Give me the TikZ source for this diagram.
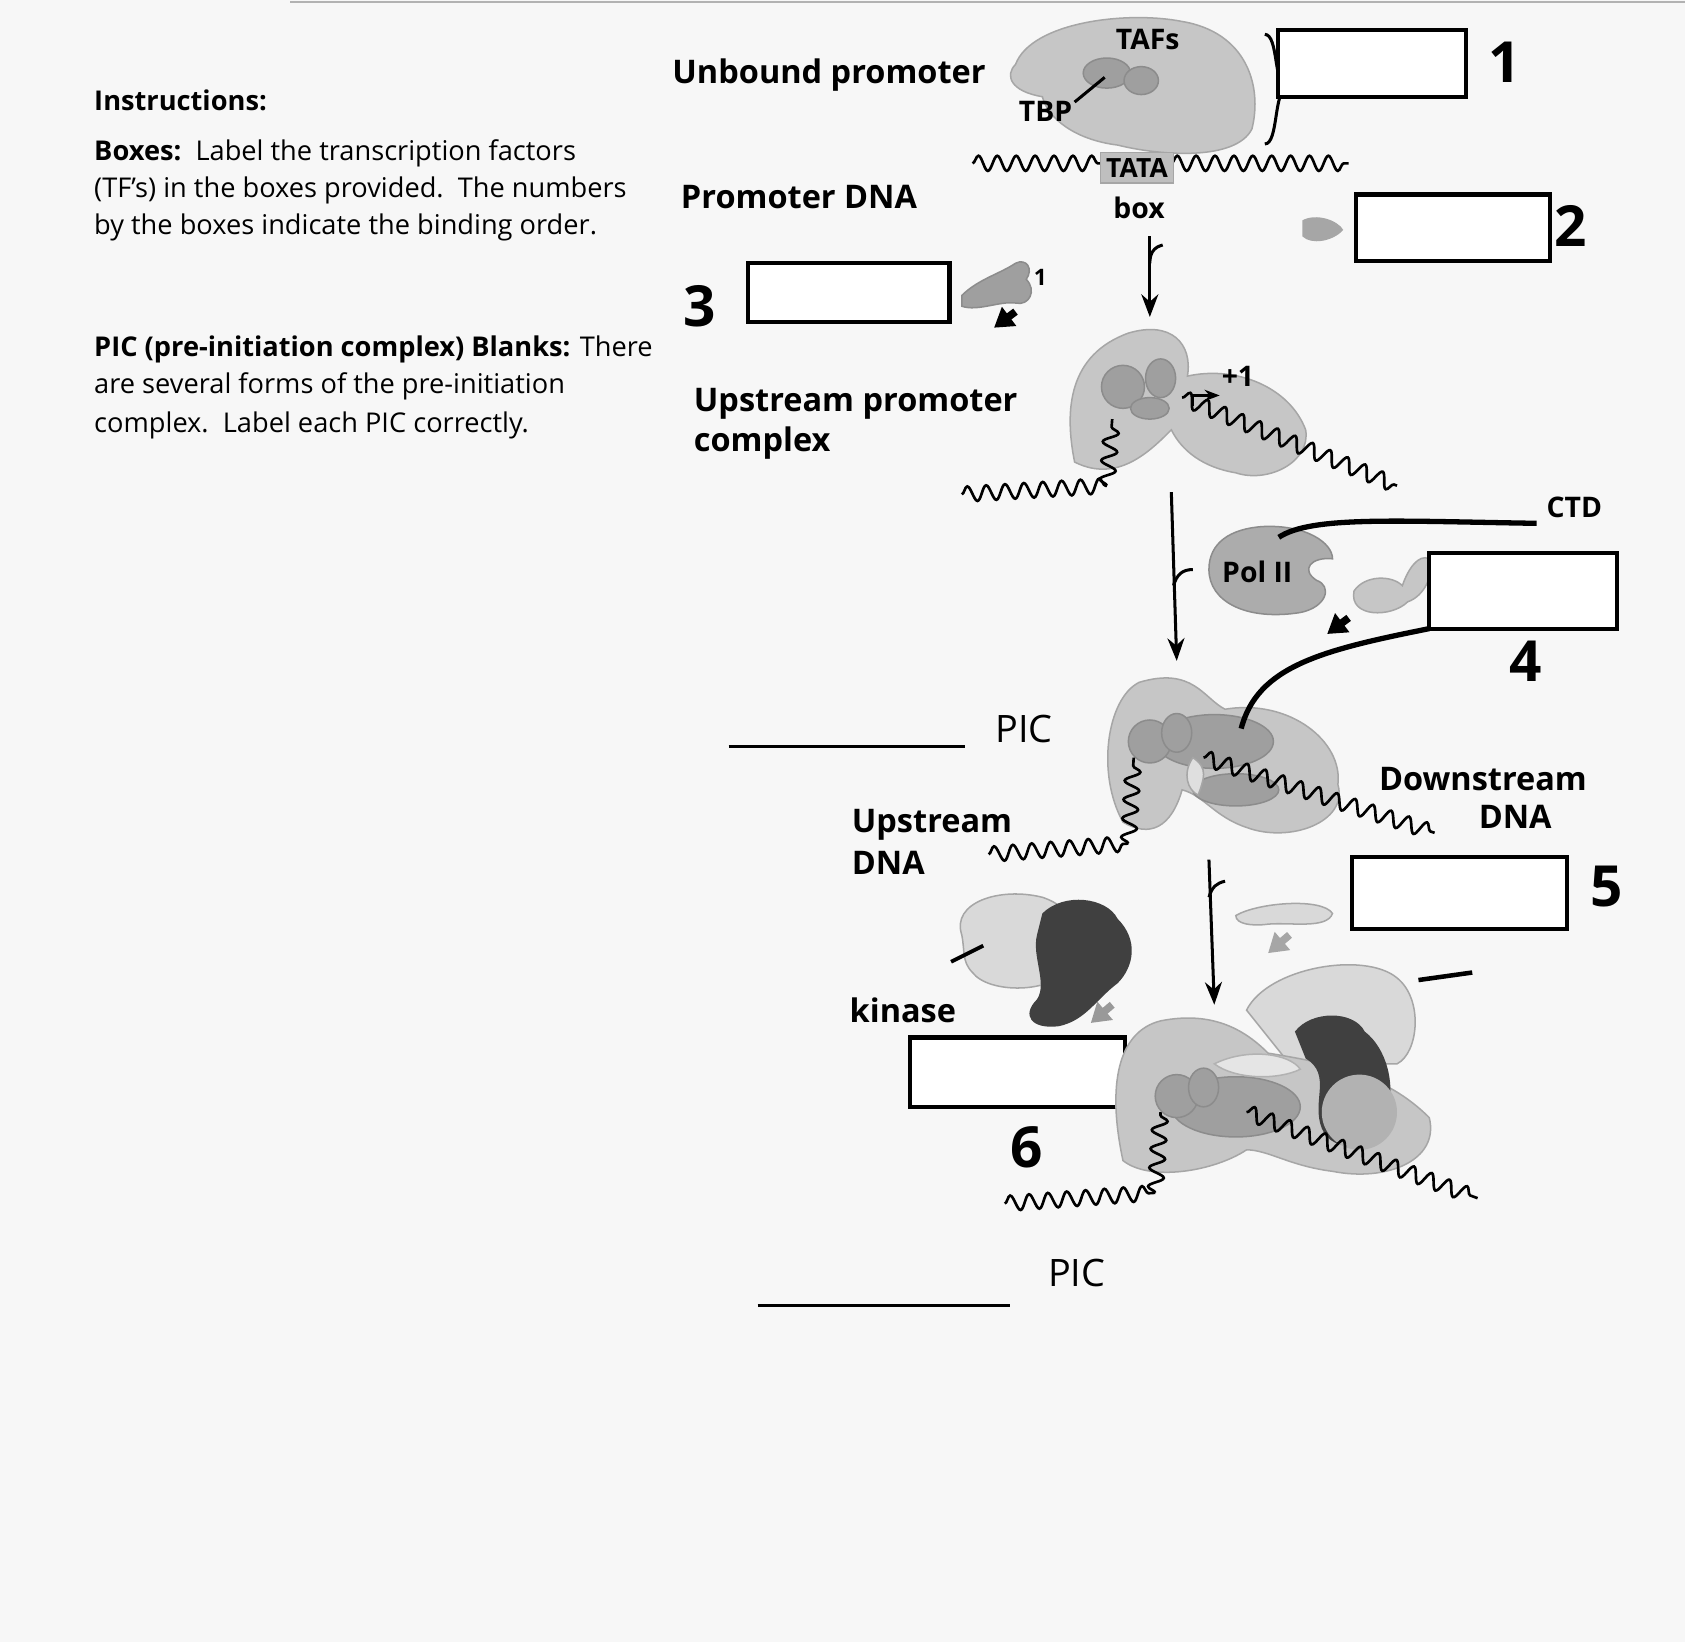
\documentclass[tikz,border=0pt]{standalone}
\usepackage{fontspec}
\setmainfont{Open Sans}
\usetikzlibrary{decorations.pathmorphing,arrows.meta}
\begin{document}
\begin{tikzpicture}[x=0.01cm,y=-0.01cm,
 txt/.style={anchor=west,inner sep=0,font=\fontsize{7.2}{8}\selectfont},
 bt/.style={anchor=west,inner sep=0,font=\fontsize{8.6}{10}\bfseries\selectfont},
 num/.style={inner sep=0,font=\fontsize{15}{17}\bfseries\selectfont},
 ansbox/.style={draw,line width=1.1pt,fill=white,inner sep=0},
 dna/.style={decorate,decoration={snake,amplitude=2pt,segment length=5pt},line width=0.7pt},
 blob/.style={fill=gray!45,draw=gray!70,line width=0.4pt},
 dark/.style={fill=gray!75,draw=gray!90},
 darker/.style={fill=black!75},
 flow/.style={-{Stealth[length=6pt]},line width=0.8pt},
 small/.style={-{Triangle[length=5pt,width=6pt]},line width=2pt}]
\fill[white!94!gray] (0,0) rectangle (1568,1528);
\useasboundingbox (0,0) rectangle (1568,1528);
\draw[gray!60,line width=0.6pt] (270,2) -- (1568,2);
% instructions
\node[txt,font=\fontsize{7.2}{8}\bfseries\selectfont] (ins) at (87,93) {Instructions:};
\node[txt] (b1) at (87,143) {\textbf{Boxes:}\ \ Label the transcription factors};
\node[txt] (b2) at (87,177) {(TF’s) in the boxes provided.\ \ The numbers};
\node[txt] (b3) at (87,212) {by the boxes indicate the binding order.};
\node[txt] (p1) at (87,325) {\textbf{PIC (pre-initiation complex) Blanks:} There};
\node[txt] (p2) at (87,360) {are several forms of the pre-initiation};
\node[txt] (p3) at (87,396) {complex.\ \ Label each PIC correctly.};
% unbound promoter
\node[bt] (ub) at (625,70) {Unbound promoter};
\path[blob] (945,60) .. controls (960,20) and (1050,10) .. (1100,20) .. controls (1160,30) and (1175,80) .. (1165,120) .. controls (1150,150) and (1080,145) .. (1040,135) .. controls (1000,130) and (975,110) .. (970,90) .. controls (940,85) and (935,70) .. (945,60) -- cycle;
\path[dark] (1030,68) ellipse (22 and 14);
\path[dark] (1062,75) ellipse (16 and 13);
\draw[line width=0.8pt] (1000,95) -- (1028,72);
\node[inner sep=0,font=\fontsize{7.5}{9}\bfseries\selectfont] (tafs) at (1068,37) {TAFs};
\node[inner sep=0,font=\fontsize{7.5}{9}\bfseries\selectfont] (tbp) at (973,104) {TBP};
\draw[line width=0.8pt] (1177,32) .. controls (1190,32) and (1185,82) .. (1198,82) .. controls (1185,82) and (1190,134) .. (1177,134);
\node[ansbox,minimum width=1.75cm,minimum height=0.62cm] (box1) at (1277,59) {};
\node[num] (n1) at (1400,58) {1};
% promoter DNA
\node[bt] (pdna) at (633,183) {Promoter DNA};
\draw[dna] (905,152) -- (1025,152);
\draw[dna] (1090,152) -- (1255,152);
\node[draw=gray!70,fill=gray!50,inner sep=1.5pt,font=\fontsize{7}{8}\bfseries\selectfont] (tata) at (1058,156) {TATA};
\node[inner sep=0,font=\fontsize{7.5}{9}\bfseries\selectfont] (tbox) at (1060,193) {box};
\coordinate (a1s) at (1070,220);
\coordinate (a1e) at (1070,295);
\draw[flow] (a1s) -- (a1e);
\draw[line width=0.8pt] (1070,245) .. controls (1070,235) and (1074,230) .. (1082,228);
\path[fill=gray!70] (1212,205) .. controls (1225,198) and (1245,205) .. (1250,214) .. controls (1240,225) and (1220,228) .. (1212,220) -- cycle;
\node[ansbox,minimum width=1.8cm,minimum height=0.62cm] (box2) at (1352,212) {};
\node[num] (n2) at (1462,210) {2};
% box 3
\node[num] (n3) at (651,285) {3};
\node[ansbox,minimum width=1.87cm,minimum height=0.55cm] (box3) at (790,272) {};
\path[dark] (895,275) .. controls (910,260) and (930,255) .. (945,245) .. controls (955,240) and (962,250) .. (955,260) .. controls (965,270) and (958,285) .. (945,282) .. controls (930,280) and (910,290) .. (895,285) -- cycle;
\node[inner sep=0,font=\fontsize{6}{7}\bfseries\selectfont] (s1) at (968,258) {1};
\draw[small] (945,290) -- (925,305);
% upstream promoter complex
\node[bt] (upc) at (645,376) {Upstream promoter};
\node[bt] (upc2) at (645,412) {complex};
\path[blob] (1000,430) .. controls (990,380) and (995,330) .. (1050,310) .. controls (1090,298) and (1110,320) .. (1105,350) .. controls (1150,340) and (1200,360) .. (1215,400) .. controls (1220,430) and (1180,450) .. (1150,440) .. controls (1120,435) and (1100,420) .. (1090,400) .. controls (1070,420) and (1040,450) .. (1000,430) -- cycle;
\path[dark] (1045,360) circle (20);
\path[dark] (1080,352) ellipse (14 and 18);
\path[dark] (1070,380) ellipse (18 and 10);
\draw[dna] (895,460) -- (1030,452);
\draw[dna] (1030,452) -- (1035,390);
\draw[dna] (1100,370) -- (1300,452);
\node[inner sep=0,font=\fontsize{7.5}{9}\bfseries\selectfont] (p1l) at (1152,350) {+1};
\draw[-{Stealth[length=4pt]},line width=0.6pt] (1110,378) -- (1110,368) -- (1135,368);
\coordinate (a2s) at (1090,458);
\coordinate (a2e) at (1095,615);
\draw[flow] (a2s) -- (a2e);
\draw[line width=0.8pt] (1092,545) .. controls (1095,535) and (1100,530) .. (1110,530);
% Pol II
\path[dark,fill=gray!65] (1175,490) .. controls (1215,488) and (1240,505) .. (1240,520) .. controls (1220,518) and (1210,530) .. (1225,540) .. controls (1240,545) and (1235,565) .. (1210,570) .. controls (1160,578) and (1125,560) .. (1125,530) .. controls (1125,505) and (1145,492) .. (1175,490) -- cycle;
\node[inner sep=0,font=\fontsize{7.5}{9}\bfseries\selectfont] (pol) at (1170,532) {Pol II};
\draw[line width=1.4pt] (1190,500) .. controls (1220,480) and (1300,485) .. (1430,487);
\node[inner sep=0,font=\fontsize{7.5}{9}\bfseries\selectfont] (ctd) at (1465,472) {CTD};
\path[blob] (1260,550) .. controls (1270,535) and (1295,535) .. (1305,545) .. controls (1310,530) and (1320,515) .. (1330,520) .. controls (1335,535) and (1325,555) .. (1310,560) .. controls (1295,575) and (1255,575) .. (1260,550) -- cycle;
\node[ansbox,minimum width=1.75cm,minimum height=0.7cm] (box4) at (1417,550) {};
\node[num] (n4) at (1420,615) {4};
\draw[small] (1255,575) -- (1235,590);
% PIC 1
\draw[line width=0.8pt] (678,695) -- (898,695);
\node[inner sep=0,font=\fontsize{10}{12}\selectfont] (pic1) at (953,678) {PIC};
\path[blob] (1045,765) .. controls (1020,720) and (1030,650) .. (1060,635) .. controls (1110,620) and (1120,650) .. (1140,660) .. controls (1200,650) and (1250,690) .. (1245,730) .. controls (1255,765) and (1200,785) .. (1160,770) .. controls (1130,760) and (1120,740) .. (1100,735) .. controls (1090,770) and (1070,780) .. (1045,765) -- cycle;
\path[dark] (1130,690) ellipse (55 and 25);
\path[dark] (1070,690) circle (20);
\path[dark] (1095,682) ellipse (14 and 18);
\path[dark] (1150,735) ellipse (40 and 15);
\path[fill=gray!25,draw=gray!70] (1110,705) .. controls (1100,720) and (1105,735) .. (1115,740) .. controls (1120,725) and (1125,715) .. (1110,705) -- cycle;
\draw[line width=1.4pt] (1155,678) .. controls (1170,620) and (1230,605) .. (1330,585);
\draw[dna] (920,795) -- (1050,785);
\draw[dna] (1050,785) -- (1055,705);
\draw[dna] (1120,705) -- (1335,775);
\node[bt,anchor=center] (dwn) at (1380,725) {Downstream};
\node[bt,anchor=center] (dwn2) at (1410,760) {DNA};
\node[bt] (up) at (792,768) {Upstream};
\node[bt] (up2) at (792,803) {DNA};
\coordinate (a3s) at (1125,800);
\coordinate (a3e) at (1130,935);
\draw[flow] (a3s) -- (a3e);
\draw[line width=0.8pt] (1125,835) .. controls (1128,825) and (1132,822) .. (1140,820);
% box 5
\path[blob,fill=gray!30] (1150,852) .. controls (1170,840) and (1230,835) .. (1240,850) .. controls (1235,865) and (1200,858) .. (1180,860) .. controls (1165,862) and (1150,860) .. (1150,852) -- cycle;
\node[ansbox,minimum width=2cm,minimum height=0.67cm] (box5) at (1358,831) {};
\node[num] (n5) at (1495,825) {5};
\draw[small,draw=gray!70] (1200,870) -- (1180,887);
% kinase
\path[blob,fill=gray!30] (895,870) .. controls (885,840) and (930,825) .. (970,835) .. controls (1000,845) and (1010,870) .. (995,900) .. controls (980,925) and (920,925) .. (905,905) .. controls (895,895) and (898,885) .. (895,870) -- cycle;
\path[darker] (970,850) .. controls (990,830) and (1030,835) .. (1040,855) .. controls (1060,875) and (1055,900) .. (1040,915) .. controls (1020,930) and (1010,950) .. (985,955) .. controls (960,958) and (950,945) .. (965,930) .. controls (975,915) and (960,890) .. (965,870) -- cycle;
\draw[line width=1pt] (885,895) -- (915,880);
\node[bt] (kin) at (790,940) {kinase};
\draw[small,draw=gray!80] (1035,935) -- (1015,952);
% box 6
\node[ansbox,minimum width=2cm,minimum height=0.65cm] (box6) at (947,998) {};
\node[num] (n6) at (955,1068) {6};
% complex 3
\path[blob,fill=gray!30] (1160,940) .. controls (1180,900) and (1270,885) .. (1300,910) .. controls (1325,930) and (1320,980) .. (1300,990) -- (1200,990) -- cycle;
\path[blob] (1045,1080) .. controls (1030,1010) and (1040,960) .. (1080,950) .. controls (1130,940) and (1160,960) .. (1180,980) .. controls (1240,990) and (1290,1000) .. (1330,1040) .. controls (1340,1080) and (1290,1100) .. (1240,1090) .. controls (1200,1085) and (1180,1070) .. (1160,1070) .. controls (1130,1090) and (1070,1100) .. (1045,1080) -- cycle;
\path[dark] (1150,1030) ellipse (60 and 28);
\path[dark] (1095,1020) circle (20);
\path[dark] (1120,1012) ellipse (14 and 18);
\path[fill=gray!20,draw=gray!60] (1130,990) .. controls (1160,975) and (1200,980) .. (1210,995) .. controls (1190,1005) and (1150,1005) .. (1130,990) -- cycle;
\path[darker] (1205,960) .. controls (1220,940) and (1260,940) .. (1270,960) .. controls (1290,975) and (1300,1010) .. (1290,1040) .. controls (1280,1070) and (1240,1075) .. (1230,1050) .. controls (1220,1025) and (1240,1000) .. (1215,985) -- cycle;
\path[fill=gray!60] (1265,1035) circle (35);
\draw[line width=1.2pt] (1320,912) -- (1370,905);
\draw[dna] (935,1120) -- (1075,1110);
\draw[dna] (1075,1110) -- (1080,1035);
\draw[dna] (1160,1035) -- (1375,1115);
% PIC 2
\draw[line width=0.8pt] (705,1215) -- (940,1215);
\node[inner sep=0,font=\fontsize{10}{12}\selectfont] (pic2) at (1002,1185) {PIC};
\end{tikzpicture}
\end{document}
